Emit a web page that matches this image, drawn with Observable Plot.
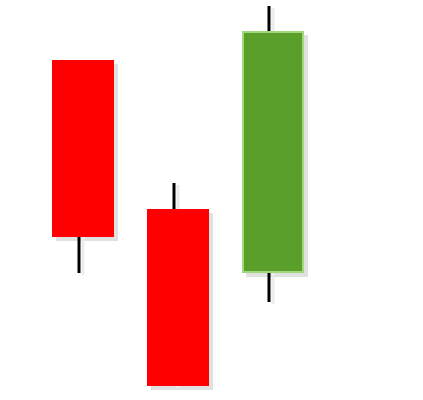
<!DOCTYPE html>
<html><head><meta charset="utf-8">
<script src="https://cdn.jsdelivr.net/npm/d3@7"></script>
<script src="https://cdn.jsdelivr.net/npm/@observablehq/plot@0.6"></script>
<style>body{margin:0;background:#fff;font-family:"DejaVu Sans",sans-serif}</style>
</head><body>
<div id="chart"></div>
<script>
const days = ["D1", "D2", "D3"];
const opens = [34.0, 19.1, 12.7];
const closes = [16.3, 1.4, 36.9];
const highs = [34.0, 21.7, 39.4];
const lows = [12.7, 1.4, 9.8];

const data = days.map((d, i) => ({day: d, open: opens[i], close: closes[i], high: highs[i], low: lows[i], up: closes[i] > opens[i]}));
const ups = data.filter(d => d.up);
const downs = data.filter(d => !d.up);

const chart = Plot.plot({
  width: 423, height: 400,
  margin: 0,
  x: {domain: days, range: [51, 304], paddingInner: 0.35, paddingOuter: 0, axis: null},
  y: {domain: [0, 40], range: [400, 0], axis: null},
  marks: [
    Plot.barY(data, {x: "day", y1: "open", y2: "close", fill: "#d9d9d9", fillOpacity: 0.8, dx: 4, dy: 4}),
    Plot.ruleX(data, {x: "day", y1: "low", y2: "high", stroke: "#ececec", strokeWidth: 3, dx: -0.5, dy: 2}),
    Plot.ruleX(data, {x: "day", y1: "low", y2: "high", stroke: "#000", strokeWidth: 3, dx: -4.5}),
    Plot.barY(downs, {x: "day", y1: "open", y2: "close", fill: "#ff0000"}),
    Plot.barY(ups, {x: "day", y1: "open", y2: "close", fill: "#5b9f2b", stroke: "#a2d77c", strokeWidth: 2, inset: 1})
  ]
});
document.getElementById("chart").appendChild(chart);
</script>
</body></html>
